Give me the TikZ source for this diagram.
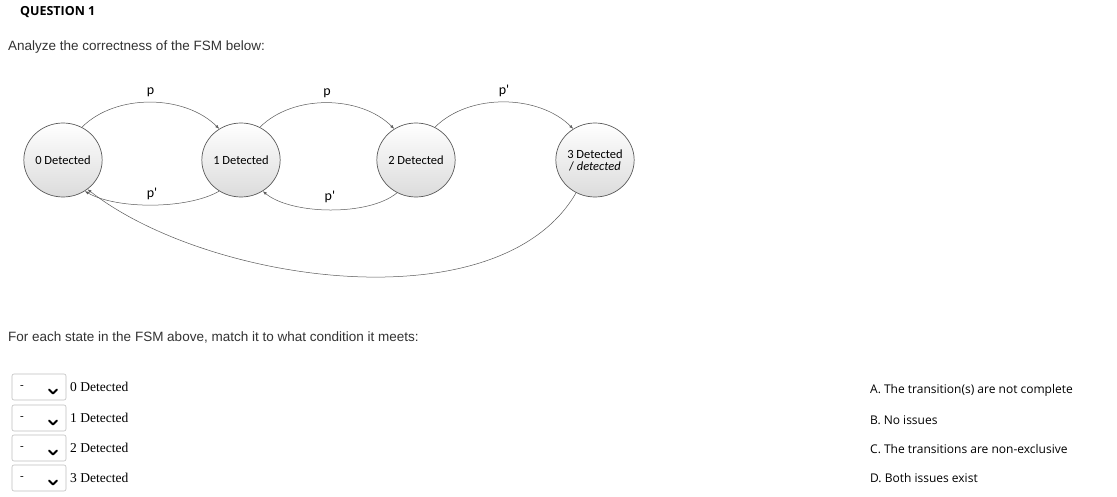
\documentclass[tikz,border=0pt]{standalone}
\usepackage{fontspec}
\setmainfont{Liberation Serif}
\newfontfamily\arialf{Liberation Sans}
\newfontfamily\opens{Open Sans}
\newfontfamily\carl{Carlito}
\usetikzlibrary{arrows.meta,shapes.geometric}
\definecolor{edgec}{RGB}{90,90,90}
\tikzset{
 st/.style={ellipse,draw=edgec,line width=0.7pt,minimum width=72pt,minimum height=74pt,inner sep=0pt,top color=white,bottom color=black!14,font=\carl\fontsize{12.5}{13}\selectfont,align=center},
 tr/.style={draw=edgec,line width=0.5pt,-{Latex[length=4pt,width=3pt]}},
 lb/.style={font=\carl\fontsize{14}{14}\selectfont},
 dd/.style={draw=black!25,line width=0.6pt,rounded corners=2pt,minimum width=54pt,minimum height=26pt,inner sep=0pt},
 opt/.style={anchor=west,font=\opens\fontsize{12}{14}\selectfont,inner sep=0pt},
 st2/.style={anchor=west,font=\fontsize{13.5}{14}\selectfont,inner sep=0pt},
 chev/.style={line width=2pt,line cap=round,line join=round}
}
\begin{document}
\begin{tikzpicture}[x=1pt,y=-1pt]
\useasboundingbox[fill=white] (0,0) rectangle (1117,496);
\node[anchor=west,font=\opens\bfseries\fontsize{12.5}{14}\selectfont,inner sep=0pt] (q) at (20,12) {QUESTION 1};
\node[anchor=west,font=\arialf\fontsize{13.5}{14}\selectfont,inner sep=0pt,text=black!80] (a) at (8,47) {Analyze the correctness of the FSM below:};
\node[st] (s0) at (63,160) {0 Detected};
\node[st] (s1) at (241,160) {1 Detected};
\node[st] (s2) at (416,160) {2 Detected};
\node[st] (s3) at (595,160) {3 Detected\\[-1pt]/ \textit{detected}};
\draw[tr] (s0.60) to[out=45,in=135,looseness=0.9] node[lb,above=2pt] {p} (s1.125);
\draw[tr] (s1.60) to[out=45,in=135,looseness=0.9] node[lb,above=2pt] {p} (s2.125);
\draw[tr] (s2.60) to[out=45,in=135,looseness=0.9] node[lb,above=2pt] {p'} (s3.125);
\draw[tr] (s1.-125) to[out=-150,in=-30,looseness=0.7] node[lb,above=2pt] {p'} (s0.-55);
\draw[tr] (s2.-120) to[out=-140,in=-40,looseness=0.7] node[lb,above=3pt] {p'} (s1.-55);
\draw[tr] (s3.-120) to[out=-120,in=-38,looseness=0.8] (s0.-50);
\node[anchor=west,font=\arialf\fontsize{13.5}{14}\selectfont,inner sep=0pt,text=black!80] (f) at (8,337) {For each state in the FSM above, match it to what condition it meets:};
\foreach \i/\y in {0/387,1/418,2/448,3/478}{
 \node[dd] (d\i) at (39,\y) {};
 \node[font=\fontsize{11}{11}\selectfont] (m\i) at (22,\y) {-};
 \draw[chev] ([xshift=-4pt,yshift=-2.5pt]d\i.center) ++(14,0) -- ++(4,4) -- ++(4,-4);
 \node[st2] (t\i) at (70,\y) {\i\ Detected};
}
\node[opt] (o1) at (870,390) {A. The transition(s) are not complete};
\node[opt] (o2) at (870,420) {B. No issues};
\node[opt] (o3) at (870,449) {C. The transitions are non-exclusive};
\node[opt] (o4) at (870,478) {D. Both issues exist};
\end{tikzpicture}
\end{document}
